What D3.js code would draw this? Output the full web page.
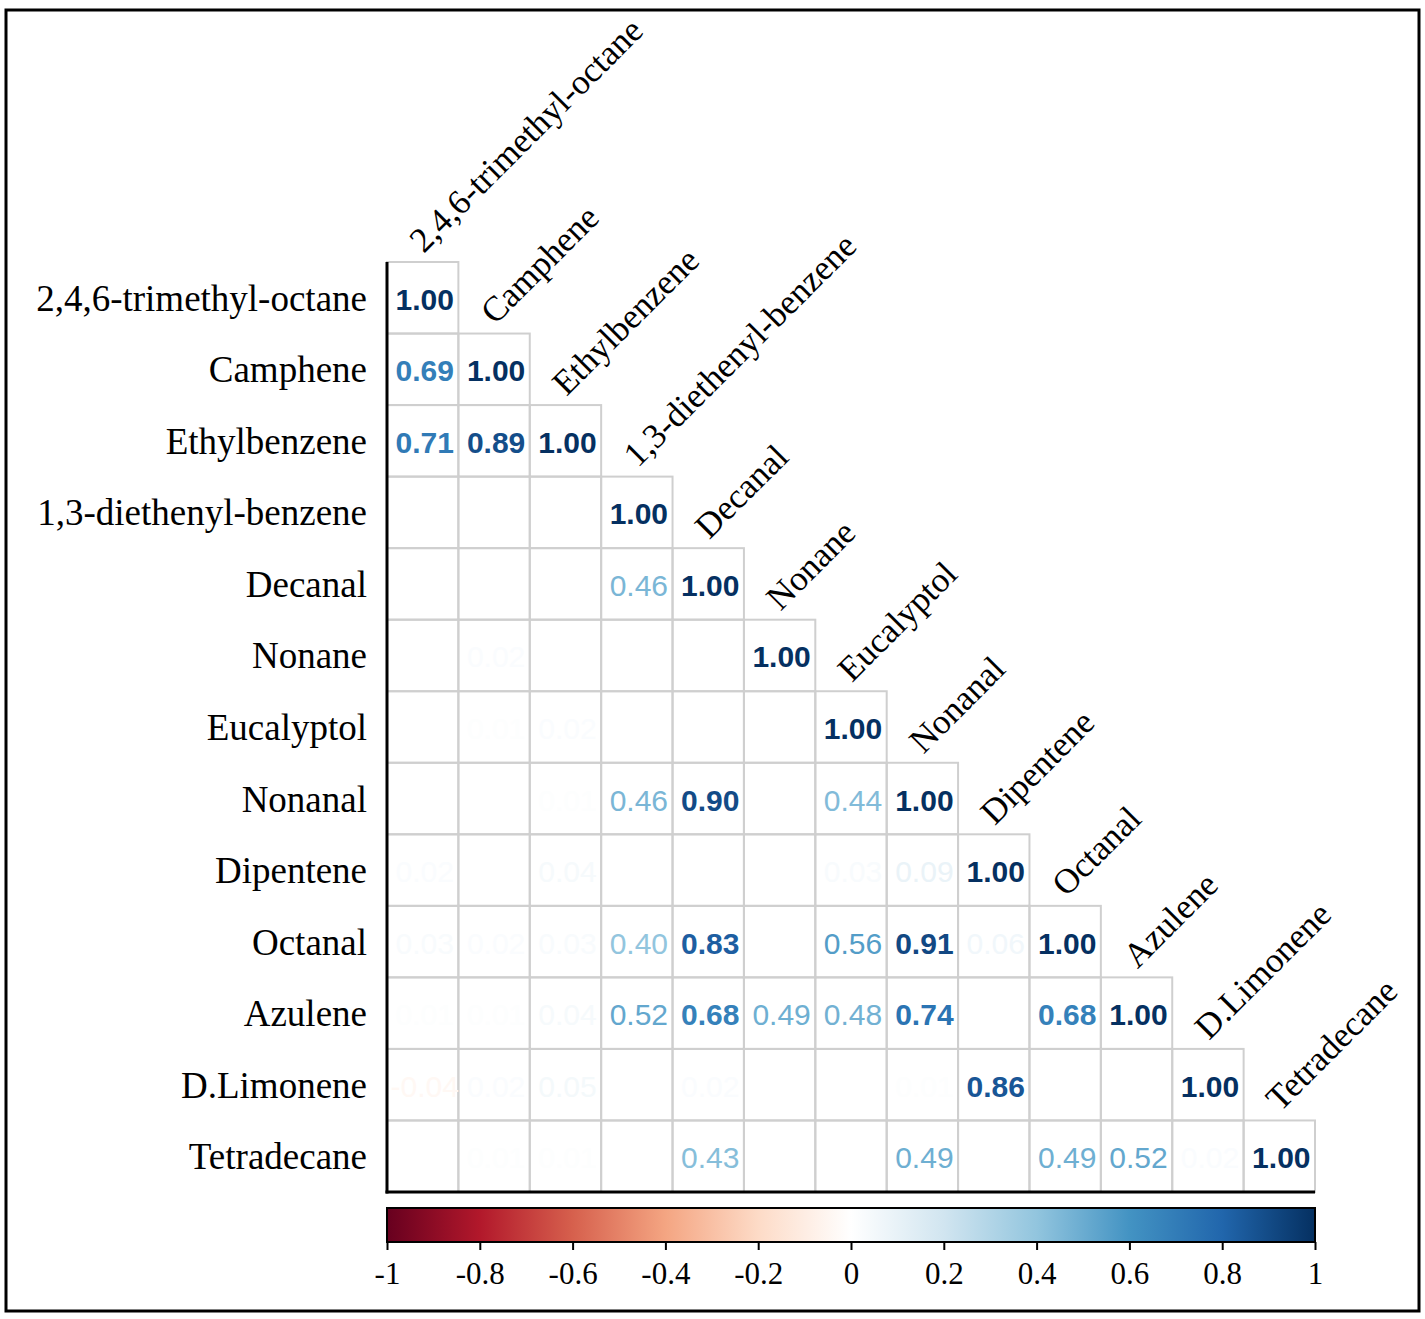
<!DOCTYPE html>
<html>
<head>
<meta charset="utf-8">
<script src="https://cdn.jsdelivr.net/npm/d3@7"></script>
<style>
  html, body { margin: 0; padding: 0; background: #fff; }
  svg { display: block; }
</style>
</head>
<body>
<svg id="chart" width="1425" height="1319"></svg>
<script>
// ---------- data ----------
const variables = [
  "2,4,6-trimethyl-octane", "Camphene", "Ethylbenzene", "1,3-diethenyl-benzene",
  "Decanal", "Nonane", "Eucalyptol", "Nonanal", "Dipentene", "Octanal",
  "Azulene", "D.Limonene", "Tetradecane"
];
// lower-triangle correlation rows (null = blank / not shown)
const row0  = [1.00];
const row1  = [0.69, 1.00];
const row2  = [0.71, 0.89, 1.00];
const row3  = [null, null, null, 1.00];
const row4  = [null, null, null, 0.46, 1.00];
const row5  = [null, 0.02, null, null, null, 1.00];
const row6  = [null, 0.01, 0.02, null, null, null, 1.00];
const row7  = [null, null, 0.01, 0.46, 0.90, null, 0.44, 1.00];
const row8  = [0.02, null, 0.04, null, null, null, 0.03, 0.09, 1.00];
const row9  = [0.03, 0.02, 0.03, 0.40, 0.83, null, 0.56, 0.91, 0.06, 1.00];
const row10 = [0.01, 0.01, 0.04, 0.52, 0.68, 0.49, 0.48, 0.74, null, 0.68, 1.00];
const row11 = [-0.04, 0.02, 0.05, null, 0.02, null, null, 0.01, 0.86, null, null, 1.00];
const row12 = [null, 0.01, 0.01, null, 0.43, null, null, 0.49, null, 0.49, 0.52, 0.02, 1.00];
const corrRows = [row0, row1, row2, row3, row4, row5, row6, row7, row8, row9, row10, row11, row12];
const legendTicks = [-1, -0.8, -0.6, -0.4, -0.2, 0, 0.2, 0.4, 0.6, 0.8, 1];
const paletteRdBu = ["#67001F", "#B2182B", "#D6604D", "#F4A582", "#FDDBC7", "#FFFFFF",
                     "#D1E5F0", "#92C5DE", "#4393C3", "#2166AC", "#053061"];

// ---------- layout ----------
const svg = d3.select("#chart");
const gridLeft = 387, gridRight = 1315, gridTop = 262, gridBottom = 1192;

svg.append("rect").attr("x", 0).attr("y", 0).attr("width", 1425).attr("height", 1319).attr("fill", "#fff");
svg.append("rect").attr("x", 6).attr("y", 10).attr("width", 1413).attr("height", 1301)
  .attr("fill", "none").attr("stroke", "#000").attr("stroke-width", 3);

const x = d3.scaleBand().domain(variables).range([gridLeft, gridRight]);
const y = d3.scaleBand().domain(variables).range([gridTop, gridBottom]);
const color = d3.scaleLinear()
  .domain(d3.range(11).map(i => -1 + i * 0.2))
  .range(paletteRdBu)
  .clamp(true);

const cells = [];
corrRows.forEach((row, i) => {
  row.forEach((v, j) => {
    cells.push({ r: variables[i], c: variables[j], v: v });
  });
});

// cell borders
svg.append("g").selectAll("rect").data(cells).join("rect")
  .attr("x", d => x(d.c)).attr("y", d => y(d.r))
  .attr("width", x.bandwidth()).attr("height", y.bandwidth())
  .attr("fill", "none").attr("stroke", "#cfcfcf").attr("stroke-width", 2);

// numbers
svg.append("g").selectAll("text").data(cells.filter(d => d.v !== null)).join("text")
  .attr("x", d => x(d.c) + x.bandwidth() / 2 + 2)
  .attr("y", d => y(d.r) + y.bandwidth() / 2 + 12)
  .attr("text-anchor", "middle")
  .attr("font-family", "Liberation Sans, Arial, sans-serif")
  .attr("font-size", 30)
  .attr("font-weight", d => Math.abs(d.v) >= 0.6 ? "bold" : "normal")
  .attr("fill", d => color(d.v))
  .text(d => d.v.toFixed(2));

// axis lines (left and bottom)
svg.append("line").attr("x1", gridLeft).attr("x2", gridLeft).attr("y1", gridTop).attr("y2", gridBottom + 1.5)
  .attr("stroke", "#000").attr("stroke-width", 3);
svg.append("line").attr("x1", gridLeft - 1.5).attr("x2", gridRight).attr("y1", gridBottom).attr("y2", gridBottom)
  .attr("stroke", "#000").attr("stroke-width", 3);

// row labels
svg.append("g").selectAll("text").data(variables).join("text")
  .attr("x", gridLeft - 20)
  .attr("y", d => y(d) + y.bandwidth() / 2 + 13)
  .attr("text-anchor", "end")
  .attr("font-family", "Liberation Serif, Times New Roman, serif")
  .attr("font-size", 37)
  .attr("fill", "#000")
  .text(d => d);

// column labels (rotated)
svg.append("g").selectAll("text").data(variables).join("text")
  .attr("transform", d => `translate(${x(d) + x.bandwidth() / 2 + 1},${y(d) - 8}) rotate(-45)`)
  .attr("text-anchor", "start")
  .attr("font-family", "Liberation Serif, Times New Roman, serif")
  .attr("font-size", 35)
  .attr("fill", "#000")
  .text(d => d);

// ---------- colour legend ----------
const lgTop = 1208, lgH = 34;
const lgScale = d3.scaleLinear().domain([-1, 1]).range([gridLeft, gridRight]);
const defs = svg.append("defs");
const grad = defs.append("linearGradient").attr("id", "rdbu").attr("x1", "0%").attr("x2", "100%");
paletteRdBu.forEach((c, i) => {
  grad.append("stop").attr("offset", (i / (paletteRdBu.length - 1) * 100) + "%").attr("stop-color", c);
});
svg.append("rect").attr("x", gridLeft).attr("y", lgTop).attr("width", gridRight - gridLeft).attr("height", lgH)
  .attr("fill", "url(#rdbu)").attr("stroke", "#000").attr("stroke-width", 2);

const lgAxis = d3.axisBottom(lgScale)
  .tickValues(legendTicks)
  .tickSize(8)
  .tickFormat(d => String(+d.toFixed(1)));
const gAx = svg.append("g").attr("transform", `translate(0,${lgTop + lgH})`).call(lgAxis);
gAx.select(".domain").remove();
gAx.selectAll(".tick line").attr("stroke", "#000").attr("stroke-width", 2);
gAx.selectAll(".tick text")
  .attr("font-family", "Liberation Serif, Times New Roman, serif")
  .attr("font-size", 31)
  .attr("fill", "#000")
  .attr("dy", "0")
  .attr("y", 42);
</script>
</body>
</html>
